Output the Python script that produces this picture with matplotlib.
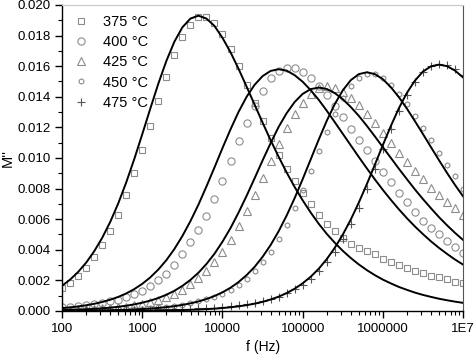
import numpy as np
import matplotlib
matplotlib.use("Agg")
from matplotlib import pyplot as plt

plt.rcParams["font.family"] = ["Liberation Sans", "DejaVu Sans"]

# measurement frequencies (Hz), 10 points per decade
freq = [1.000e2, 1.259e2, 1.585e2, 1.995e2, 2.512e2, 3.162e2, 3.981e2, 5.012e2, 6.310e2, 7.943e2,
        1.000e3, 1.259e3, 1.585e3, 1.995e3, 2.512e3, 3.162e3, 3.981e3, 5.012e3, 6.310e3, 7.943e3,
        1.000e4, 1.259e4, 1.585e4, 1.995e4, 2.512e4, 3.162e4, 3.981e4, 5.012e4, 6.310e4, 7.943e4,
        1.000e5, 1.259e5, 1.585e5, 1.995e5, 2.512e5, 3.162e5, 3.981e5, 5.012e5, 6.310e5, 7.943e5,
        1.000e6, 1.259e6, 1.585e6, 1.995e6, 2.512e6, 3.162e6, 3.981e6, 5.012e6, 6.310e6, 7.943e6,
        1.000e7]

labels = ["375 °C", "400 °C", "425 °C", "450 °C", "475 °C"]

# measured M'' (markers)
data375 = [.0015, .0018, .0023, .0028, .0035, .0043, .0052, .0063, .0076, .0090,
           .0105, .0121, .0137, .0153, .0167, .0179, .0187, .0192, .0192, .0188,
           .0181, .0171, .0160, .0148, .0136, .0124, .0113, .0102, .0093, .0085,
           .0077, .0070, .0063, .0057, .0052, .0048, .0044, .0041, .0039, .0037,
           .0034, .0032, .0030, .0028, .0026, .0025, .0023, .0022, .0021, .0019,
           .0018]
data400 = [.00026, .00029, .00033, .00038, .00044, .00052, .00062, .00074, .00089, .00108,
           .00132, .00162, .0020, .0024, .0030, .0037, .0045, .0053, .0062, .0073,
           .0085, .0098, .0111, .0123, .0134, .0144, .0152, .0157, .0159, .0159,
           .0156, .0152, .0147, .0141, .0134, .0127, .0119, .0112, .0105, .0098,
           .0091, .0084, .0077, .0071, .0065, .0059, .0054, .0050, .0046, .0042,
           .0038]
data425 = [.00008, .00009, .00010, .00012, .00014, .00017, .00020, .00024, .00029, .00036,
           .00045, .00056, .00071, .00089, .00112, .00140, .00174, .00215, .00263, .00320,
           .00388, .00465, .00554, .00652, .00758, .00869, .00982, .01092, .01195, .01285,
           .01360, .01420, .01455, .01468, .01460, .01432, .01392, .01345, .01290, .01230,
           .01165, .01100, .01035, .00975, .00915, .00860, .00805, .00755, .00710, .00670,
           .00630]
data450 = [.00005, .00005, .00006, .00006, .00007, .00008, .00009, .00010, .00012, .00014,
           .00016, .00019, .00023, .00028, .00034, .00042, .00051, .00062, .00076, .00093,
           .00114, .00140, .00172, .00212, .00260, .00318, .00388, .00470, .00565, .00672,
           .00790, .00915, .01045, .01172, .01290, .01392, .01472, .01525, .01550, .01550,
           .01525, .01480, .01420, .01350, .01275, .01195, .01115, .01035, .00955, .00880,
           .00800]
data475 = [.00004, .00004, .00004, .00005, .00005, .00005, .00006, .00006, .00007, .00007,
           .00008, .00009, .00010, .00011, .00012, .00013, .00015, .00017, .00019, .00022,
           .00026, .00030, .00036, .00043, .00052, .00063, .00077, .00094, .00115, .00141,
           .00173, .00212, .00260, .00318, .00388, .00470, .00566, .00675, .00795, .00925,
           .01058, .01188, .01308, .01412, .01497, .01560, .01598, .01612, .01605, .01580,
           .01540]

# fitted curves (solid lines)
fit375 = [.00165, .00205, .00255, .00316, .00390, .00478, .00582, .00703, .00841, .00993,
          .01156, .01323, .01486, .01634, .01760, .01854, .01911, .01930, .01911, .01863,
          .01785, .01691, .01583, .01467, .01349, .01231, .01116, .01008, .00905, .00810,
          .00723, .00643, .00570, .00504, .00446, .00393, .00346, .00304, .00267, .00234,
          .00205, .00180, .00157, .00138, .00120, .00105, .00092, .00080, .00070, .00061,
          .00053]
fit400 = [.000188, .000236, .000297, .000373, .000468, .000587, .000735, .000919, .001147, .001429,
          .001775, .002197, .00271, .00332, .00405, .00490, .00587, .00695, .00814, .00938,
          .01065, .01187, .01301, .01399, .01478, .01535, .01569, .01580, .01571, .01541,
          .01498, .01443, .01380, .01309, .01234, .01158, .01082, .01006, .00932, .00860,
          .00791, .00726, .00664, .00606, .00552, .00502, .00455, .00412, .00373, .00336,
          .00303]
fit425 = [.000055, .000069, .000087, .000110, .000138, .000174, .000218, .000274, .000344, .000432,
          .000542, .000679, .000848, .00106, .00132, .00164, .00203, .00250, .00307, .00374,
          .00453, .00542, .00643, .00752, .00867, .00984, .01097, .01203, .01293, .01366,
          .01419, .01450, .01460, .01451, .01424, .01384, .01333, .01275, .01210, .01141,
          .01070, .01000, .00929, .00861, .00794, .00731, .00671, .00613, .00560, .00510,
          .00464]
fit450 = [.000013, .000016, .000020, .000025, .000032, .000040, .000050, .000063, .000080, .000100,
          .000126, .000159, .000200, .000251, .000315, .000396, .000497, .000623, .000780, .000976,
          .00122, .00152, .00189, .00234, .00288, .00354, .00431, .00521, .00624, .00738,
          .00862, .00991, .01120, .01243, .01352, .01442, .01509, .01548, .01560, .01548,
          .01515, .01462, .01397, .01322, .01240, .01156, .01070, .00985, .00902, .00823,
          .00749]
fit475 = [.0000019, .0000024, .0000030, .0000038, .0000048, .0000061, .0000077, .0000097, .0000122, .0000153,
          .0000193, .0000243, .0000305, .0000384, .0000484, .0000609, .0000765, .0000963, .000121, .000152,
          .000192, .000241, .000303, .000380, .000477, .000597, .000749, .000935, .001169, .001455,
          .00181, .00224, .00276, .00339, .00413, .00499, .00598, .00709, .00829, .00956,
          .01085, .01210, .01326, .01426, .01506, .01565, .01599, .01610, .01600, .01571,
          .01526]

datas = [data375, data400, data425, data450, data475]
fits = [fit375, fit400, fit425, fit450, fit475]
markers = ["s", "o", "^", "h", "+"]
msizes = [4.6, 5.2, 5.2, 3.8, 6]

fig = plt.figure(figsize=(4.74, 3.55), dpi=100)
ax = fig.add_axes([0.131, 0.124, 0.846, 0.862])

grey = "#8c8c8c"
for d, m, ms, lab in zip(datas, markers, msizes, labels):
    if m == "+":
        ax.plot(freq, d, linestyle="none", marker=m, ms=ms, color="#555555", mew=0.8, label=lab, zorder=2)
    else:
        ax.plot(freq, d, linestyle="none", marker=m, ms=ms, mfc="none", mec=grey, mew=0.8, label=lab, zorder=2)
for fit in fits:
    ax.plot(freq, fit, color="black", lw=1.4, zorder=3)

ax.set_xscale("log")
ax.set_xlim(100, 1e7)
ax.set_ylim(0, 0.020)
ax.set_xticks([1e2, 1e3, 1e4, 1e5, 1e6, 1e7])
ax.set_xticklabels(["100", "1000", "10000", "100000", "1000000", "1E7"])
ax.set_yticks(np.arange(0, 0.0201, 0.002))
ax.set_yticklabels(["%.3f" % v for v in np.arange(0, 0.0201, 0.002)])
ax.set_yticks(np.arange(0.001, 0.020, 0.002), minor=True)
ax.tick_params(which="major", direction="out", length=5, width=1, labelsize=9.5, top=False, right=False)
ax.tick_params(which="minor", direction="out", length=3, width=0.8, top=False, right=False)
ax.spines["top"].set_color("#c8c8c8")
ax.spines["right"].set_color("#555555")
for s in ["left", "bottom"]:
    ax.spines[s].set_linewidth(1.0)

ax.set_xlabel("f (Hz)", fontsize=10, labelpad=3.5)
ax.set_ylabel("M''", fontsize=10.5, labelpad=2)

ax.legend(loc="upper left", frameon=False, fontsize=10.5, handletextpad=0.9,
          labelspacing=0.42, borderaxespad=0.3, handlelength=1.2)

plt.savefig("out.png", dpi=100)
